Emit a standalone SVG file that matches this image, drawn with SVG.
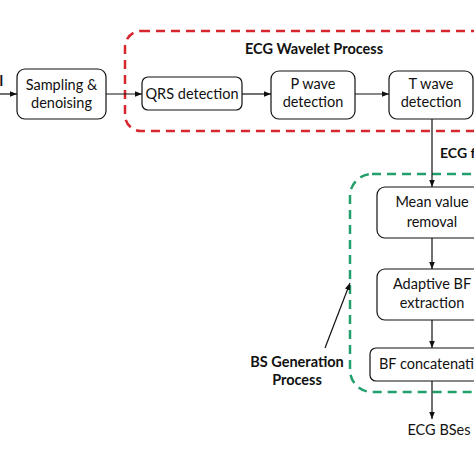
<svg xmlns="http://www.w3.org/2000/svg" width="474" height="474" viewBox="0 0 474 474">
<style>
text{font-family:Lato,"Liberation Sans",sans-serif;fill:#111;font-size:14.5px}
.b{font-weight:bold}
.c{text-anchor:middle}
.box{fill:#fff;stroke:#111;stroke-width:1.2}
.ln{stroke:#111;stroke-width:1.2;fill:none}
.red{fill:none;stroke:#d7262e;stroke-width:2.5;stroke-dasharray:9 6}
.grn{fill:none;stroke:#22a06b;stroke-width:2.5;stroke-dasharray:9 6}
</style>
<defs>
<marker id="ah" viewBox="0 0 10 10" refX="10" refY="5" markerWidth="7" markerHeight="7" markerUnits="userSpaceOnUse" orient="auto">
<path d="M0,1 L10,5 L0,9 z" fill="#111"/>
</marker>
</defs>
<rect width="474" height="474" fill="#fff"/>
<g id="groups">
<rect class="red" x="125" y="31" width="380" height="100" rx="16"/>
<rect class="grn" x="350" y="174" width="160" height="218" rx="22"/>
<text class="b" x="245" y="54">ECG Wavelet Process</text>
<text class="b" x="440" y="158" style="font-size:14px">ECG f</text>
<text class="b c" x="297" y="367">BS Generation</text>
<text class="b c" x="297" y="385">Process</text>
<text class="b" x="-0.5" y="86">l</text>
</g>
<g id="connectors">
<line class="ln" x1="0" y1="94" x2="17" y2="94" marker-end="url(#ah)"/>
<line class="ln" x1="106" y1="94" x2="142" y2="94" marker-end="url(#ah)"/>
<line class="ln" x1="242" y1="94" x2="271" y2="94" marker-end="url(#ah)"/>
<line class="ln" x1="355" y1="94" x2="389" y2="94" marker-end="url(#ah)"/>
<line class="ln" x1="432" y1="119" x2="432" y2="187" marker-end="url(#ah)"/>
<line class="ln" x1="432" y1="238" x2="432" y2="269" marker-end="url(#ah)"/>
<line class="ln" x1="432" y1="320" x2="432" y2="348" marker-end="url(#ah)"/>
<line class="ln" x1="432" y1="381" x2="432" y2="419" marker-end="url(#ah)"/>
<line class="ln" x1="325" y1="348" x2="350" y2="283" marker-end="url(#ah)"/>
</g>
<g id="sampling">
<rect class="box" x="17" y="69" width="89" height="50" rx="8"/>
<text class="c" x="61.5" y="90">Sampling &amp;</text>
<text class="c" x="61.5" y="108">denoising</text>
</g>
<g id="qrs">
<rect class="box" x="142" y="77" width="100" height="33" rx="6"/>
<text class="c" x="192" y="99">QRS detection</text>
</g>
<g id="pwave">
<rect class="box" x="271" y="71" width="84" height="48" rx="8"/>
<text class="c" x="313" y="89">P wave</text>
<text class="c" x="313" y="107">detection</text>
</g>
<g id="twave">
<rect class="box" x="389" y="71" width="84" height="48" rx="8"/>
<text class="c" x="431" y="89">T wave</text>
<text class="c" x="431" y="107">detection</text>
</g>
<g id="mean">
<rect class="box" x="377" y="187" width="110" height="51" rx="8"/>
<text class="c" x="432" y="207">Mean value</text>
<text class="c" x="432" y="227">removal</text>
</g>
<g id="adaptive">
<rect class="box" x="377" y="269" width="110" height="51" rx="8"/>
<text class="c" x="432" y="289">Adaptive BF</text>
<text class="c" x="432" y="308">extraction</text>
</g>
<g id="concat">
<rect class="box" x="370" y="348" width="124" height="33" rx="6"/>
<text x="379" y="369">BF concatenati</text>
</g>
<g id="output">
<text class="c" x="439" y="435">ECG BSes</text>
</g>
</svg>
